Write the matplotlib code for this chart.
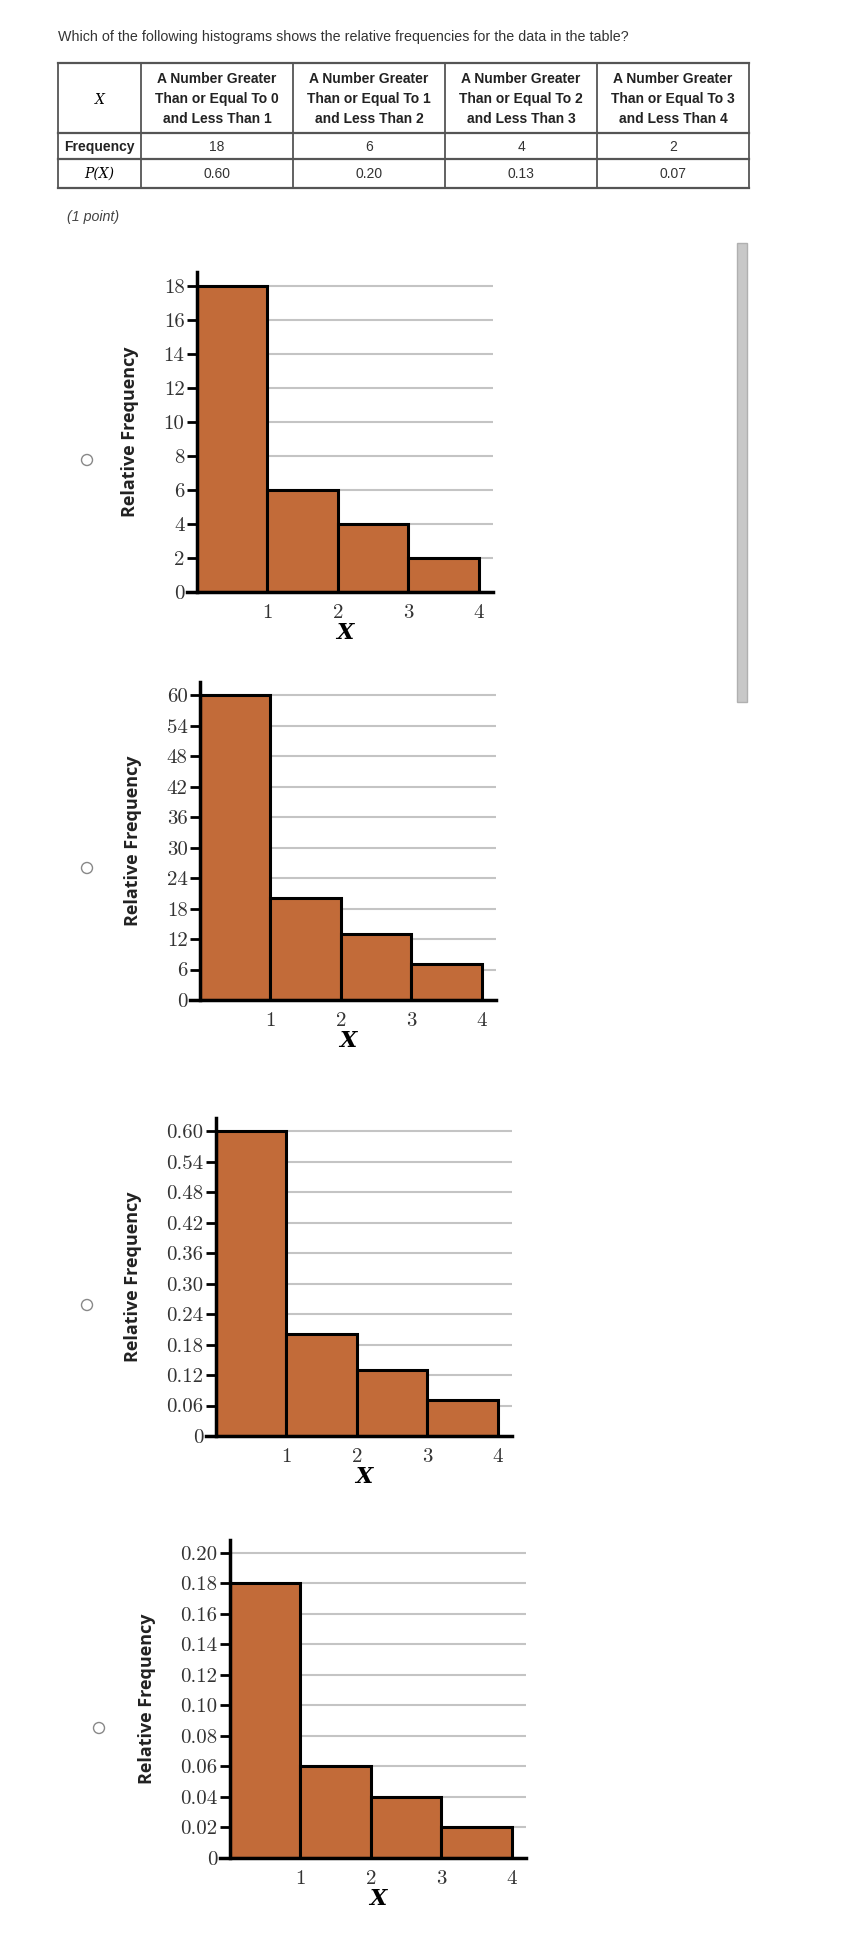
import matplotlib
matplotlib.use("Agg")
import matplotlib.pyplot as plt
from matplotlib.patches import Circle, Rectangle

W, H = 848, 1944

# data
x_edges = [0, 1, 2, 3]
table_header = ["A Number Greater\nThan or Equal To 0\nand Less Than 1",
                "A Number Greater\nThan or Equal To 1\nand Less Than 2",
                "A Number Greater\nThan or Equal To 2\nand Less Than 3",
                "A Number Greater\nThan or Equal To 3\nand Less Than 4"]
frequency = [18, 6, 4, 2]
prob = ["0.60", "0.20", "0.13", "0.07"]

opt1_vals = [18, 6, 4, 2]
opt1_ticks = [0, 2, 4, 6, 8, 10, 12, 14, 16, 18]
opt2_vals = [60, 20, 13, 7]
opt2_ticks = [0, 6, 12, 18, 24, 30, 36, 42, 48, 54, 60]
opt3_vals = [0.60, 0.20, 0.13, 0.07]
opt3_ticks = [0, 0.06, 0.12, 0.18, 0.24, 0.30, 0.36, 0.42, 0.48, 0.54, 0.60]
opt4_vals = [0.18, 0.06, 0.04, 0.02]
opt4_ticks = [0, 0.02, 0.04, 0.06, 0.08, 0.10, 0.12, 0.14, 0.16, 0.18, 0.20]

BAR = "#c26b39"
SANS = "Liberation Sans"

fig = plt.figure(figsize=(W / 100, H / 100), dpi=100)

# page overlay in pixel coords
pg = fig.add_axes([0, 0, 1, 1])
pg.set_xlim(0, W)
pg.set_ylim(H, 0)
pg.axis("off")

pg.text(58, 37, "Which of the following histograms shows the relative frequencies for the data in the table?",
        fontsize=10.3, family=SANS, color="#333333", va="center", ha="left")

# table
col_x = [58, 141, 293, 445, 597, 749]
row_y = [63, 133, 159, 188]
lc = "#555555"
for y in row_y:
    pg.plot([col_x[0], col_x[-1]], [y, y], color=lc, lw=1.6)
for x in col_x:
    pg.plot([x, x], [row_y[0], row_y[-1]], color=lc, lw=1.3)
pg.text((col_x[0] + col_x[1]) / 2, 100, "X", family="DejaVu Serif", style="italic",
        fontsize=10, ha="center", va="center")
pg.text((col_x[0] + col_x[1]) / 2, 147, "Frequency", family=SANS, weight="bold",
        fontsize=10, ha="center", va="center", color="#222222")
pg.text((col_x[0] + col_x[1]) / 2, 174, "P(X)", family="DejaVu Serif", style="italic",
        fontsize=10, ha="center", va="center")
for i in range(4):
    cx = (col_x[i + 1] + col_x[i + 2]) / 2
    pg.text(cx, 99, table_header[i], family=SANS, weight="bold", fontsize=10,
            ha="center", va="center", linespacing=1.55, color="#222222")
    pg.text(cx, 147, str(frequency[i]), family=SANS, fontsize=10, ha="center", va="center", color="#333333")
    pg.text(cx, 174, prob[i], family=SANS, fontsize=10, ha="center", va="center", color="#333333")

pg.text(67, 217, "(1 point)", family=SANS, style="italic", fontsize=10.3, color="#444444",
        ha="left", va="center")

# scrollbar
pg.add_patch(Rectangle((737, 243), 10, 459, facecolor="#c8c8c8", edgecolor="#b0b0b0", lw=1))

# radio buttons
for cx, cy in [(87, 460), (87, 868), (87, 1305), (99, 1728)]:
    pg.add_patch(Circle((cx, cy), 5.5, facecolor="white", edgecolor="#888888", lw=1))

charts = [
    (opt1_vals, opt1_ticks, [str(t) for t in opt1_ticks], (197, 493, 272, 592), 18.82, 67),
    (opt2_vals, opt2_ticks, [str(t) for t in opt2_ticks], (200, 496, 682, 1000), 62.6, 67),
    (opt3_vals, opt3_ticks, ["0"] + [f"{t:.2f}" for t in opt3_ticks[1:]], (216, 512, 1118, 1436), 0.626, 83),
    (opt4_vals, opt4_ticks, ["0"] + [f"{t:.2f}" for t in opt4_ticks[1:]], (230, 526, 1540, 1858), 0.2085, 83),
]

for vals, ticks, labels, (l, r, t, b), ytop, lab_off in charts:
    ax = fig.add_axes([l / W, 1 - b / H, (r - l) / W, (b - t) / H])
    ax.set_facecolor("none")
    ax.bar(x_edges, vals, width=1, align="edge", color=BAR, edgecolor="black", lw=2.2, zorder=3)
    ax.set_xlim(0, 4.2)
    ax.set_ylim(0, ytop)
    for tk in ticks[1:]:
        ax.axhline(tk, color="#c4c4c4", lw=1.5, zorder=1)
    ax.axhline(0, xmin=-10 / (r - l), xmax=1, color="black", lw=2.5, clip_on=False, zorder=4)
    for s in ["top", "right", "bottom"]:
        ax.spines[s].set_visible(False)
    ax.spines["left"].set_linewidth(2.5)
    ax.spines["left"].set_zorder(5)
    ax.set_yticks(ticks)
    ax.set_yticklabels(labels, family="cmr10", fontsize=15, color="#333333")
    ax.tick_params(axis="y", length=7, width=2, pad=2)
    ax.set_xticks([1, 2, 3, 4])
    ax.set_xticklabels(["1", "2", "3", "4"], family="cmr10", fontsize=15, color="#333333")
    ax.tick_params(axis="x", length=0, pad=9)
    ax.set_xlabel("X", family="DejaVu Serif", style="italic", weight="bold", fontsize=16, labelpad=0)
    ax.set_ylabel("Relative Frequency", family="Open Sans", weight="bold", fontsize=13,
                  ha="center", va="center", color="#222222")
    ax.yaxis.set_label_coords(-lab_off / (r - l), 0.5)

fig.savefig("out.png", dpi=100)
